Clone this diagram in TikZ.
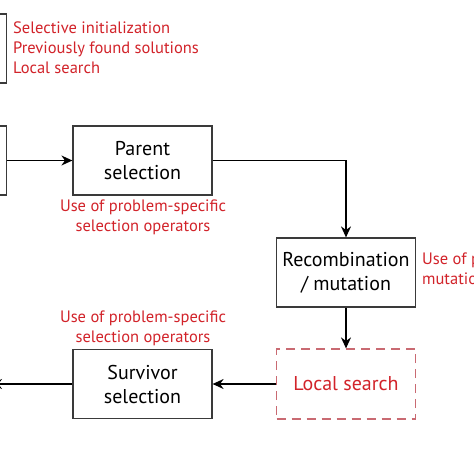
\documentclass[tikz,border=0pt]{standalone}
\usepackage{fontspec}
\setmainfont{PT Sans}
\usetikzlibrary{arrows.meta}
\definecolor{redtxt}{HTML}{D2232A}
\definecolor{dashred}{HTML}{C96A72}
\definecolor{boxgray}{HTML}{3A3A3A}
\tikzset{
  box/.style={draw=boxgray, line width=1.2pt, minimum width=139pt, minimum height=69pt,
    align=center, font=\fontsize{20}{24}\selectfont, text=black, inner sep=0pt},
  note/.style={text=redtxt, font=\fontsize{16.5}{20}\selectfont, inner sep=0pt},
  dbox/.style={draw=dashred, line width=1.2pt, dash pattern=on 9pt off 6pt, minimum width=139pt,
    minimum height=70pt, align=center, text=redtxt, font=\fontsize{20}{24}\selectfont, inner sep=0pt},
  arr/.style={-{Stealth[length=11pt,width=10pt]}, line width=1.5pt, black}
}
\begin{document}
\begin{tikzpicture}[x=1pt,y=-1pt]
\useasboundingbox (0,0) rectangle (474,474);
\clip (0,0) rectangle (474,474);
\fill[white] (0,0) rectangle (474,474);
\node[box] (init) at (-63,48.5) {};
\node[box] (eval) at (-63,160.5) {};
\node[box] (parent) at (142.5,160.5) {Parent\\selection};
\node[box] (recomb) at (346,272.5) {Recombination\\/ mutation};
\node[dbox] (local) at (346,384) {Local search};
\node[box] (surv) at (142.5,384) {Survivor\\selection};
\coordinate (out) at (-9,384);
\node[note, anchor=west, align=left] (initnote) at (13,48) {Selective initialization\\Previously found solutions\\Local search};
\node[note, align=center] (pnote) at (143,217) {Use of problem-specific\\selection operators};
\node[note, align=center] (snote) at (143,328) {Use of problem-specific\\selection operators};
\node[note, anchor=west, align=left] (rnote) at (422,270.5) {Use of problem-specific\\mutation operators};
\draw[arr] (eval.east) -- (parent.west);
\draw[arr] (parent.east) -| (recomb.north);
\draw[arr] (recomb.south) -- (local.north);
\draw[arr] (local.west) -- (surv.east);
\draw[arr] (surv.west) -- (out);
\end{tikzpicture}
\end{document}
